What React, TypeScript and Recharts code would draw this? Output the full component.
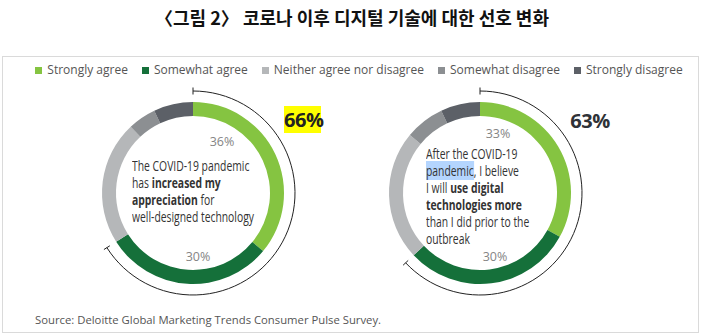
import React from 'react';
import { PieChart, Pie, Cell } from 'recharts';

const categories = ['Strongly agree', 'Somewhat agree', 'Neither agree nor disagree', 'Somewhat disagree', 'Strongly disagree'];
const colors = ['#85C441', '#15703A', '#B5B7B9', '#8C8F92', '#5C6067'];
const appreciationValues = [36, 30, 22, 5, 7];
const digitalValues = [33, 30, 23, 7, 7];
const agreeTotals = [66, 63];

const title = '〈그림 2〉 코로나 이후 디지털 기술에 대한 선호 변화';
const source = 'Source: Deloitte Global Marketing Trends Consumer Pulse Survey.';

const toData = (vals: number[]) => categories.map((name, i) => ({ name, value: vals[i] }));
const appreciationData = toData(appreciationValues);
const digitalData = toData(digitalValues);
const bracketData = (total: number) => [
  { name: 'agree', value: total },
  { name: 'other', value: 100 - total },
];

const FONT = '"Open Sans", "Noto Sans", sans-serif';
const RAD = Math.PI / 180;

const makeValueLabel = (offsets: number[][]) => (props: any) => {
  const { cx, cy, index, value } = props;
  if (index > 1) return null;
  const o = offsets[index];
  return (
    <text
      x={cx + o[0]}
      y={cy + o[1]}
      textAnchor="middle"
      dominantBaseline="central"
      fill="#858585"
      fontSize={12.5}
      fontFamily={FONT}
    >
      {value}%
    </text>
  );
};

const bracketLabel = (props: any) => {
  const { cx, cy, startAngle, endAngle, outerRadius, index } = props;
  if (index !== 0) return null;
  const pt = (a: number, r: number) => [cx + r * Math.cos(a * RAD), cy - r * Math.sin(a * RAD)];
  const [x1, y1] = pt(startAngle, outerRadius);
  const [x2, y2] = pt(endAngle, outerRadius);
  const large = Math.abs(startAngle - endAngle) > 180 ? 1 : 0;
  const sweep = startAngle > endAngle ? 1 : 0;
  const [ta1, tb1] = [pt(startAngle, outerRadius - 3.5), pt(startAngle, outerRadius + 3.5)];
  const [ta2, tb2] = [pt(endAngle, outerRadius - 3.5), pt(endAngle, outerRadius + 3.5)];
  return (
    <g>
      <path
        d={`M${x1},${y1} A${outerRadius},${outerRadius} 0 ${large} ${sweep} ${x2},${y2}`}
        fill="none"
        stroke="#222"
        strokeWidth={1}
      />
      <line x1={ta1[0]} y1={ta1[1]} x2={tb1[0]} y2={tb1[1]} stroke="#222" strokeWidth={1} />
      <line x1={ta2[0]} y1={ta2[1]} x2={tb2[0]} y2={tb2[1]} stroke="#222" strokeWidth={1} />
    </g>
  );
};

const CX1 = 193;
const CX2 = 480;
const CY = 193;
const INNER = 77;
const OUTER = 91;
const BRACKET_R = 102;

export default function App() {
  return (
    <div style={{ position: 'absolute', left: 0, top: 0, width: 704, height: 335, background: '#fff', overflow: 'hidden' }}>
      <div
        style={{
          position: 'absolute',
          left: 0,
          top: 4,
          width: 704,
          textAlign: 'center',
          fontFamily: '"Noto Sans CJK KR", sans-serif',
          fontWeight: 700,
          fontSize: 18,
          lineHeight: '26px',
          color: '#111',
          whiteSpace: 'nowrap',
        }}
      >
        {title}
      </div>
      <div
        style={{
          position: 'absolute',
          left: 2,
          top: 56,
          width: 697,
          height: 277,
          border: '1px solid #dadada',
          boxSizing: 'border-box',
        }}
      />
      <div
        style={{
          position: 'absolute',
          left: 0,
          top: 62,
          width: 704,
          display: 'flex',
          justifyContent: 'center',
          gap: 14,
          paddingLeft: 14,
          boxSizing: 'border-box',
          fontFamily: FONT,
          fontSize: 12,
          lineHeight: '16px',
          color: '#555',
          whiteSpace: 'nowrap',
        }}
      >
        {categories.map((c, i) => (
          <div key={c} style={{ display: 'flex', alignItems: 'center' }}>
            <span style={{ width: 7, height: 7, background: colors[i], display: 'inline-block', marginRight: 5 }} />
            <span>{c}</span>
          </div>
        ))}
      </div>
      <div style={{ position: 'absolute', left: 0, top: 0 }}>
        <PieChart width={704} height={335} margin={{ top: 0, right: 0, bottom: 0, left: 0 }}>
          <Pie
            data={appreciationData}
            dataKey="value"
            nameKey="name"
            cx={CX1}
            cy={CY}
            innerRadius={INNER}
            outerRadius={OUTER}
            startAngle={90}
            endAngle={-270}
            stroke="none"
            isAnimationActive={false}
            labelLine={false}
            label={makeValueLabel([[29, -52], [5, 63]])}
          >
            {appreciationData.map((d, i) => (
              <Cell key={d.name} fill={colors[i]} />
            ))}
          </Pie>
          <Pie
            data={digitalData}
            dataKey="value"
            nameKey="name"
            cx={CX2}
            cy={CY}
            innerRadius={INNER}
            outerRadius={OUTER}
            startAngle={90}
            endAngle={-270}
            stroke="none"
            isAnimationActive={false}
            labelLine={false}
            label={makeValueLabel([[18, -60], [15, 63]])}
          >
            {digitalData.map((d, i) => (
              <Cell key={d.name} fill={colors[i]} />
            ))}
          </Pie>
          <Pie
            data={bracketData(agreeTotals[0])}
            dataKey="value"
            cx={CX1}
            cy={CY}
            innerRadius={BRACKET_R}
            outerRadius={BRACKET_R}
            startAngle={90}
            endAngle={-270}
            fill="none"
            stroke="none"
            isAnimationActive={false}
            labelLine={false}
            label={bracketLabel}
          />
          <Pie
            data={bracketData(agreeTotals[1])}
            dataKey="value"
            cx={CX2}
            cy={CY}
            innerRadius={BRACKET_R}
            outerRadius={BRACKET_R}
            startAngle={90}
            endAngle={-270}
            fill="none"
            stroke="none"
            isAnimationActive={false}
            labelLine={false}
            label={bracketLabel}
          />
        </PieChart>
      </div>

      <div
        style={{
          position: 'absolute',
          left: 132,
          top: 157,
          fontFamily: FONT,
          fontSize: 14,
          lineHeight: '17px',
          color: '#333',
          transform: 'scaleX(0.74)',
          transformOrigin: '0 0',
          whiteSpace: 'nowrap',
        }}
      >
        <div>The COVID-19 pandemic</div>
        <div>
          has <b>increased my</b>
        </div>
        <div>
          <b>appreciation</b> for
        </div>
        <div>well-designed technology</div>
      </div>

      <div
        style={{
          position: 'absolute',
          left: 426,
          top: 145,
          fontFamily: FONT,
          fontSize: 14,
          lineHeight: '17px',
          color: '#333',
          transform: 'scaleX(0.74)',
          transformOrigin: '0 0',
          whiteSpace: 'nowrap',
        }}
      >
        <div>After the COVID-19</div>
        <div>
          <span style={{ background: '#B4D5FE' }}>pandemic</span>, I believe
        </div>
        <div>
          I will <b>use digital</b>
        </div>
        <div>
          <b>technologies more</b>
        </div>
        <div>than I did prior to the</div>
        <div>outbreak</div>
      </div>

      <div
        style={{
          position: 'absolute',
          left: 284,
          top: 106,
          width: 37,
          height: 27,
          lineHeight: '27px',
          textAlign: 'center',
          background: '#FFFF00',
          fontFamily: FONT,
          fontWeight: 700,
          fontSize: 20,
          color: '#222',
          letterSpacing: -0.5,
        }}
      >
        {agreeTotals[0]}%
      </div>
      <div
        style={{
          position: 'absolute',
          left: 570,
          top: 107,
          width: 40,
          height: 27,
          lineHeight: '27px',
          textAlign: 'center',
          fontFamily: FONT,
          fontWeight: 700,
          fontSize: 20,
          color: '#2f3237',
          letterSpacing: -0.5,
        }}
      >
        {agreeTotals[1]}%
      </div>

      <div
        style={{
          position: 'absolute',
          left: 35,
          top: 312,
          fontFamily: FONT,
          fontSize: 11.3,
          lineHeight: '16px',
          color: '#555',
          whiteSpace: 'nowrap',
        }}
      >
        {source}
      </div>
    </div>
  );
}
